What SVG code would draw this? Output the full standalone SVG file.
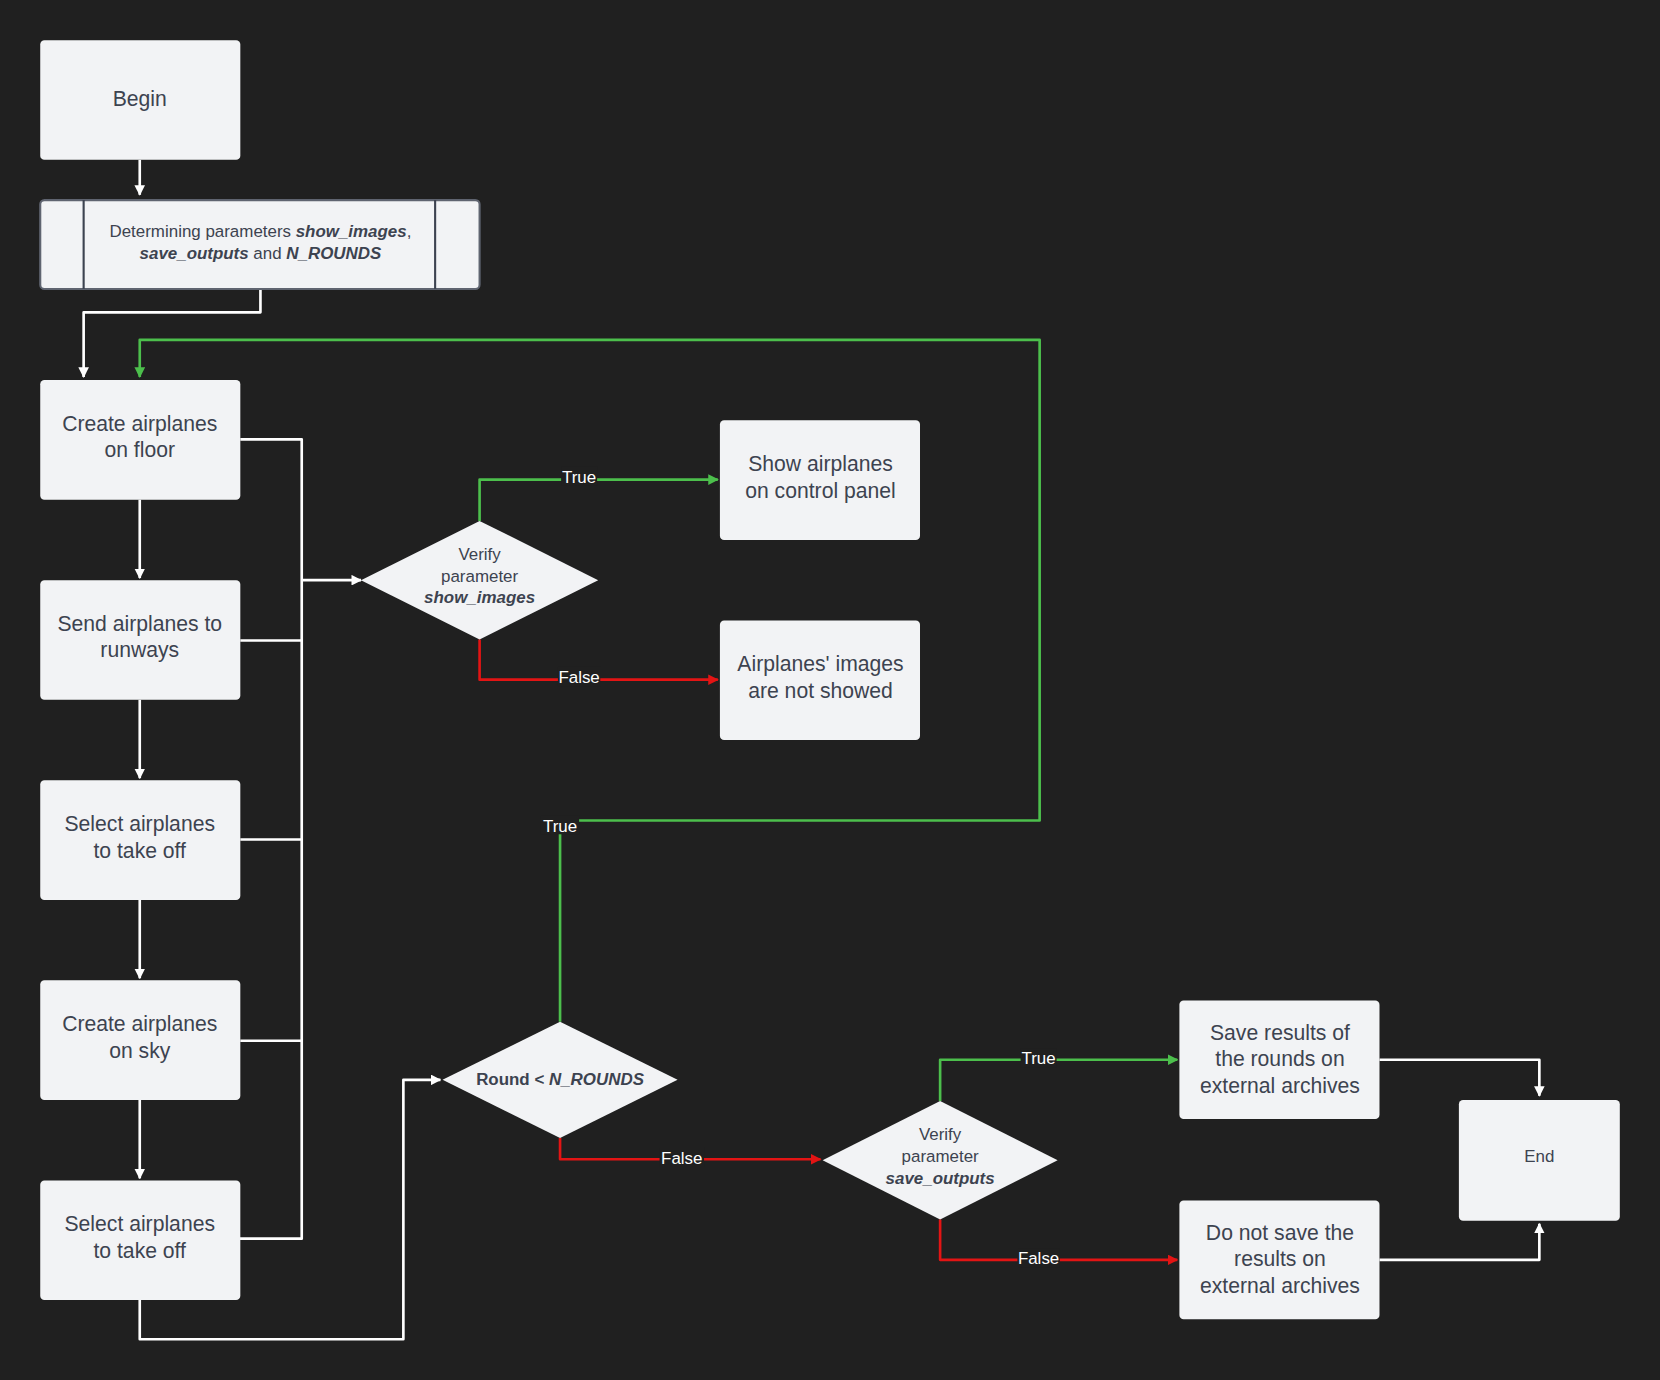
<svg xmlns="http://www.w3.org/2000/svg" width="1660" height="1380" viewBox="0 0 1660 1380">
<style>
.n{fill:#f2f3f5;}
.t{font-family:"Liberation Sans",Arial,sans-serif;fill:#3d4350;text-anchor:middle;}
.l{font-family:"Liberation Sans",Arial,sans-serif;fill:#ffffff;text-anchor:middle;font-size:16px;}
.w{fill:none;stroke:#ffffff;stroke-width:2.5;stroke-linejoin:round;}
.g{fill:none;stroke:#4cbf4c;stroke-width:2.5;stroke-linejoin:round;}
.r{fill:none;stroke:#e31414;stroke-width:2.5;stroke-linejoin:round;}
.bg{fill:#202020;}
</style>
<defs>
<marker id="aw" markerWidth="10" markerHeight="10" refX="9" refY="5" orient="auto" markerUnits="userSpaceOnUse" viewBox="0 0 10 10"><path d="M0,0 L10,5 L0,10 z" fill="#ffffff"/></marker>
<marker id="ag" markerWidth="10" markerHeight="10" refX="9" refY="5" orient="auto" markerUnits="userSpaceOnUse" viewBox="0 0 10 10"><path d="M0,0 L10,5 L0,10 z" fill="#4cbf4c"/></marker>
<marker id="ar" markerWidth="10" markerHeight="10" refX="9" refY="5" orient="auto" markerUnits="userSpaceOnUse" viewBox="0 0 10 10"><path d="M0,0 L10,5 L0,10 z" fill="#e31414"/></marker>
</defs>
<rect width="1660" height="1380" fill="#202020"/>
<g transform="scale(1.0587)">
<g id="connectors">
<path class="w" d="M132,151 V184" marker-end="url(#aw)"/>
<path class="w" d="M246,273 V295 H79 V356" marker-end="url(#aw)"/>
<path class="w" d="M132,472 V546" marker-end="url(#aw)"/>
<path class="w" d="M132,661 V735" marker-end="url(#aw)"/>
<path class="w" d="M132,850 V924" marker-end="url(#aw)"/>
<path class="w" d="M132,1039 V1113" marker-end="url(#aw)"/>
<path class="w" d="M227,415 H285 V1170 H209" marker-end="url(#aw)"/>
<path class="w" d="M285,548 H341" marker-end="url(#aw)"/>
<path class="w" d="M227,605 H285 M227,793 H285 M227,983 H285"/>
<path class="w" d="M132,1228 V1265 H381 V1020 H416" marker-end="url(#aw)"/>
<path class="g" d="M529,965 V775 H982 V321 H132 V356" marker-end="url(#ag)"/>
<path class="g" d="M453,492 V453 H678" marker-end="url(#ag)"/>
<path class="r" d="M453,604 V642 H678" marker-end="url(#ar)"/>
<path class="r" d="M529,1075 V1095 H775" marker-end="url(#ar)"/>
<path class="g" d="M888,1040 V1001 H1112" marker-end="url(#ag)"/>
<path class="r" d="M888,1152 V1190 H1112" marker-end="url(#ar)"/>
<path class="w" d="M1303,1001 H1454 V1035" marker-end="url(#aw)"/>
<path class="w" d="M1303,1190 H1454 V1156" marker-end="url(#aw)"/>
<rect class="bg" x="530" y="441" width="34" height="18"/><text class="l" x="547" y="456">True</text>
<rect class="bg" x="527" y="630" width="40" height="18"/><text class="l" x="547" y="645">False</text>
<rect class="bg" x="511" y="770" width="36" height="18"/><text class="l" x="529" y="786">True</text>
<rect class="bg" x="623" y="1084" width="42" height="18"/><text class="l" x="644" y="1099">False</text>
<rect class="bg" x="964" y="990" width="34" height="18"/><text class="l" x="981" y="1005">True</text>
<rect class="bg" x="961" y="1179" width="40" height="18"/><text class="l" x="981" y="1194">False</text>
</g>
<g id="begin"><rect class="n" x="38" y="38" width="189" height="113" rx="4"/><text class="t" x="132" y="100" font-size="20">Begin</text></g>
<g id="params"><rect class="n" x="38" y="189" width="415" height="84" rx="4" stroke="#5f6470" stroke-width="2"/><path d="M79,189 V273 M411,189 V273" stroke="#3d4350" stroke-width="2"/>
<text class="t" x="246" y="224" font-size="16">Determining parameters <tspan font-weight="bold" font-style="italic">show_images</tspan>,</text>
<text class="t" x="246" y="245" font-size="16"><tspan font-weight="bold" font-style="italic">save_outputs</tspan> and <tspan font-weight="bold" font-style="italic">N_ROUNDS</tspan></text></g>
<g id="floor"><rect class="n" x="38" y="359" width="189" height="113" rx="4"/><text class="t" x="132" y="407" font-size="20">Create airplanes</text><text class="t" x="132" y="432" font-size="20">on floor</text></g>
<g id="runways"><rect class="n" x="38" y="548" width="189" height="113" rx="4"/><text class="t" x="132" y="596" font-size="20">Send airplanes to</text><text class="t" x="132" y="621" font-size="20">runways</text></g>
<g id="takeoff1"><rect class="n" x="38" y="737" width="189" height="113" rx="4"/><text class="t" x="132" y="785" font-size="20">Select airplanes</text><text class="t" x="132" y="810" font-size="20">to take off</text></g>
<g id="sky"><rect class="n" x="38" y="926" width="189" height="113" rx="4"/><text class="t" x="132" y="974" font-size="20">Create airplanes</text><text class="t" x="132" y="999" font-size="20">on sky</text></g>
<g id="takeoff2"><rect class="n" x="38" y="1115" width="189" height="113" rx="4"/><text class="t" x="132" y="1163" font-size="20">Select airplanes</text><text class="t" x="132" y="1188" font-size="20">to take off</text></g>
<g id="verify1"><path class="n" d="M453,492 L565,548 L453,604 L341,548 z"/><text class="t" x="453" y="529" font-size="16">Verify</text><text class="t" x="453" y="550" font-size="16">parameter</text><text class="t" x="453" y="570" font-size="16" font-weight="bold" font-style="italic">show_images</text></g>
<g id="show"><rect class="n" x="680" y="397" width="189" height="113" rx="4"/><text class="t" x="775" y="445" font-size="20">Show airplanes</text><text class="t" x="775" y="470" font-size="20">on control panel</text></g>
<g id="noshow"><rect class="n" x="680" y="586" width="189" height="113" rx="4"/><text class="t" x="775" y="634" font-size="20">Airplanes' images</text><text class="t" x="775" y="659" font-size="20">are not showed</text></g>
<g id="round"><path class="n" d="M529,965 L640,1020 L529,1075 L418,1020 z"/><text class="t" x="529" y="1025" font-size="16" font-weight="bold">Round &lt; <tspan font-style="italic">N_ROUNDS</tspan></text></g>
<g id="verify2"><path class="n" d="M888,1040 L999,1096 L888,1152 L777,1096 z"/><text class="t" x="888" y="1077" font-size="16">Verify</text><text class="t" x="888" y="1098" font-size="16">parameter</text><text class="t" x="888" y="1118" font-size="16" font-weight="bold" font-style="italic">save_outputs</text></g>
<g id="save"><rect class="n" x="1114" y="945" width="189" height="112" rx="4"/><text class="t" x="1209" y="982" font-size="20">Save results of</text><text class="t" x="1209" y="1007" font-size="20">the rounds on</text><text class="t" x="1209" y="1032" font-size="20">external archives</text></g>
<g id="nosave"><rect class="n" x="1114" y="1134" width="189" height="112" rx="4"/><text class="t" x="1209" y="1171" font-size="20">Do not save the</text><text class="t" x="1209" y="1196" font-size="20">results on</text><text class="t" x="1209" y="1221" font-size="20">external archives</text></g>
<g id="end"><rect class="n" x="1378" y="1039" width="152" height="114" rx="4"/><text class="t" x="1454" y="1098" font-size="16">End</text></g>
</g>
</svg>
